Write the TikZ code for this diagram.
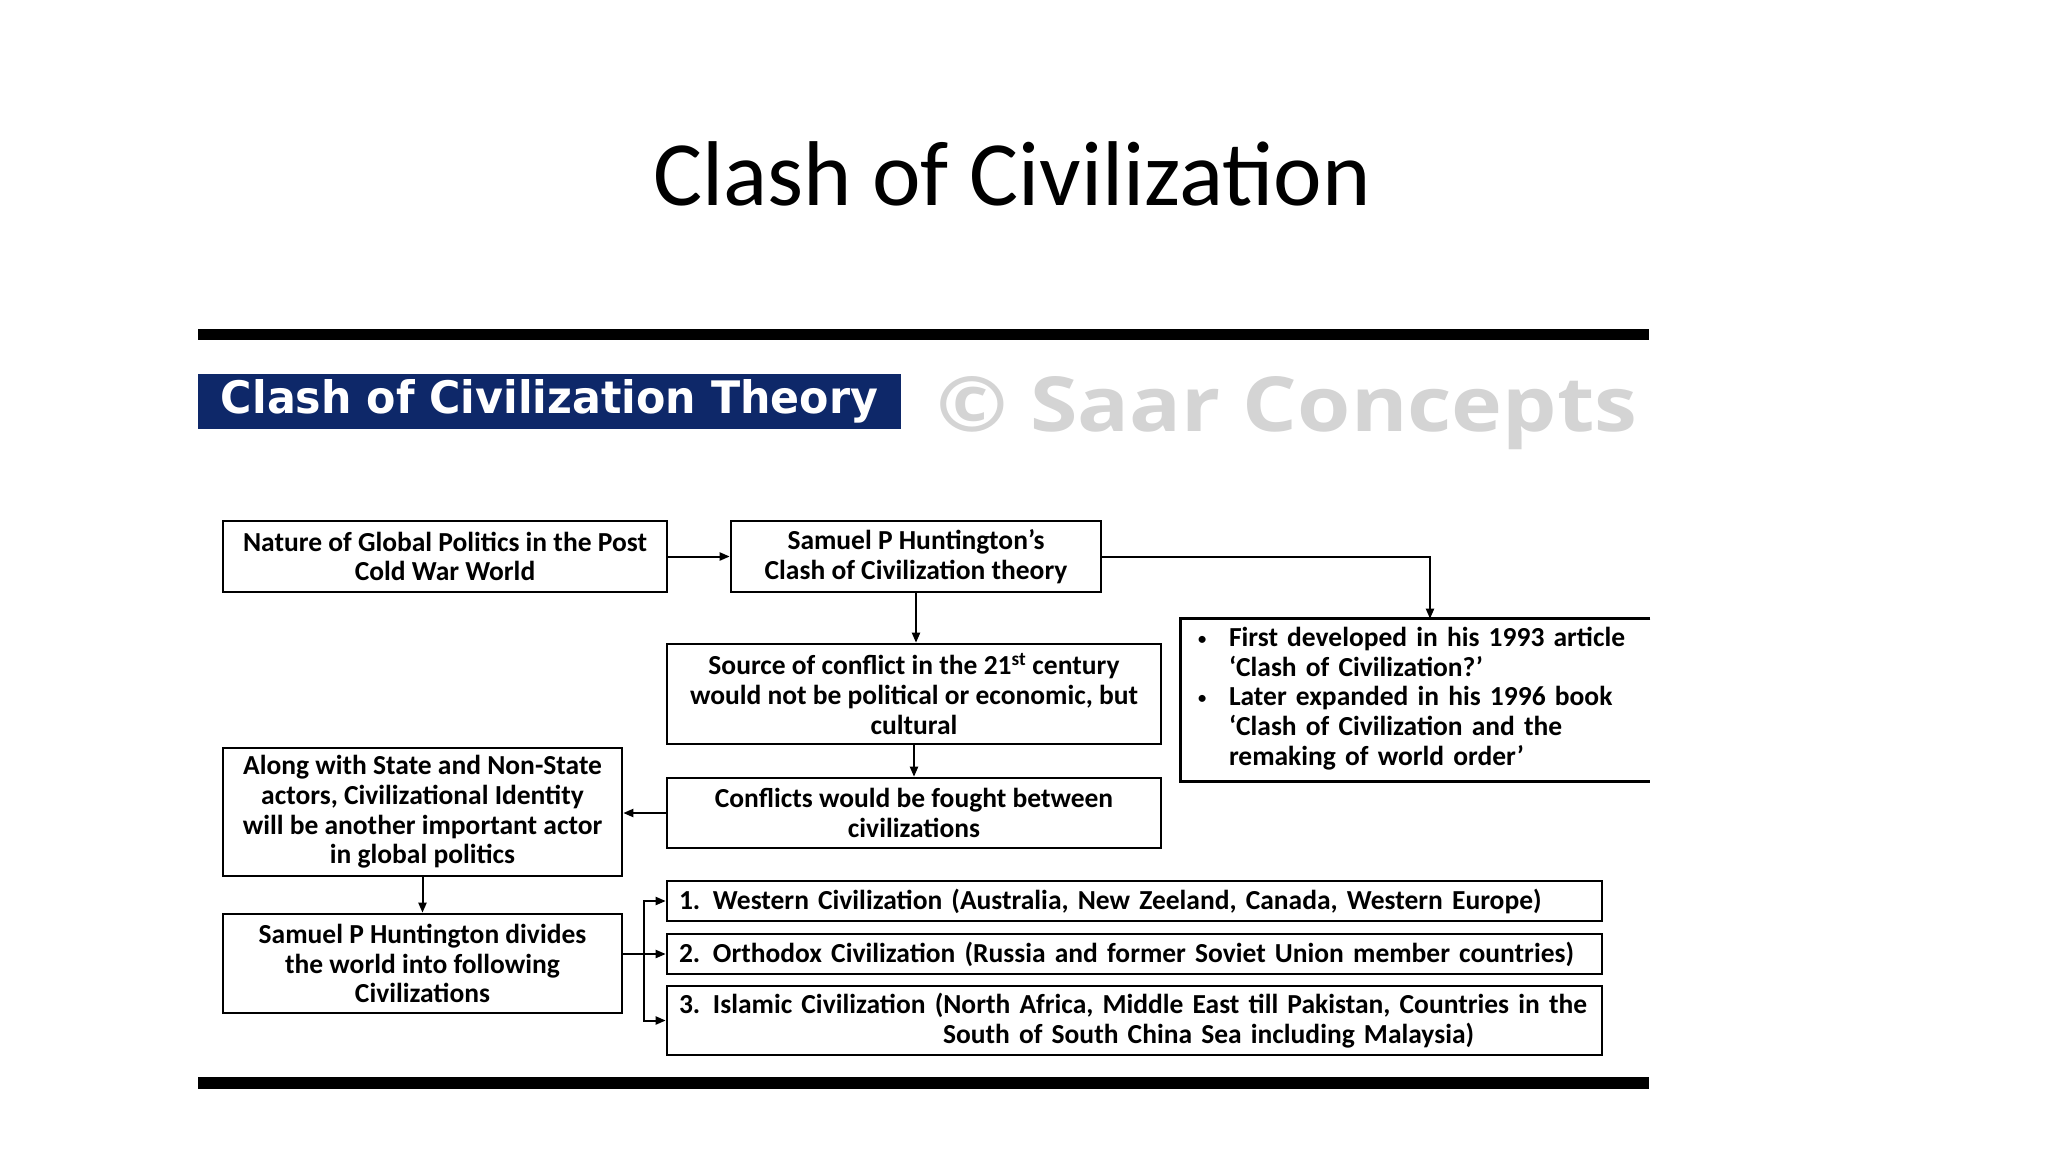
\documentclass[tikz,border=0pt]{standalone}
\usepackage{fontspec}
\usepackage{graphicx}
\setmainfont{Carlito}
\newfontfamily\wmfont{Open Sans}
\newfontfamily\headfont{DejaVu Sans}
\usetikzlibrary{arrows.meta}
\definecolor{navy}{RGB}{14,40,105}
\definecolor{wmgray}{RGB}{212,212,212}
\newcommand{\dotmark}{\raisebox{2pt}{\scalebox{0.6}{\textbullet}}}
\tikzset{
  box/.style={draw, line width=2.6pt, fill=white, align=center, inner sep=0pt,
    font=\fontsize{27.5}{29.6}\selectfont\bfseries},
  arr/.style={line width=2pt, -{Triangle[length=10pt,width=8pt]}},
}
\begin{document}
\begin{tikzpicture}[x=1pt,y=-1pt]
    \useasboundingbox (0,0) rectangle (2048,1152);
    \node [anchor=base, font=\fontsize{92}{100}\selectfont] (title) at (1012,205) {Clash of Civilization};
    \fill (198,329) rectangle (1649,340);
    \fill (198,1077) rectangle (1649,1089);
    \node [fill=navy, text=white, minimum width=703pt, minimum height=55pt, inner sep=0pt] (head) at (549.5,401)
          {\resizebox{657pt}{34pt}{\headfont\bfseries Clash of Civilization Theory}};
    \node [anchor=base west, text=wmgray, inner sep=0pt] (mark) at (936,431)
          {\resizebox{701pt}{55pt}{\wmfont\bfseries © Saar Concepts}};

    \node [box, minimum width=444pt, minimum height=71pt] (nature) at (445,556.5)
          {Nature of Global Politics in the Post\\Cold War World};
    \node [box, minimum width=370pt, minimum height=71pt] (theory) at (916,556.5)
          {Samuel P Huntington’s\\Clash of Civilization theory};
    \node [box, draw=none, minimum width=467pt, minimum height=160pt, text width=435pt, align=left] (books) at (1415.5,700)
          {\begin{tabular}{@{}p{31pt}@{}l@{}}
             \dotmark & First developed in his 1993 article\\
                      & ‘Clash of Civilization?’\\
             \dotmark & Later expanded in his 1996 book\\
                      & ‘Clash of Civilization and the\\
                      & remaking of world order’
           \end{tabular}};
    \draw [line width=2.6pt] (books.north east) -- (books.north west) -- (books.south west) -- (books.south east);
    \node [box, minimum width=494pt, minimum height=100pt] (source) at (914,694)
          {Source of conflict in the 21\textsuperscript{st} century\\would not be political or economic, but\\cultural};
    \node [box, minimum width=494pt, minimum height=70pt] (fought) at (914,813)
          {Conflicts would be fought between\\civilizations};
    \node [box, minimum width=399pt, minimum height=128pt] (identity) at (422.5,812)
          {Along with State and Non-State\\actors, Civilizational Identity\\will be another important actor\\in global politics};
    \node [box, minimum width=399pt, minimum height=99pt] (divides) at (422.5,963.5)
          {Samuel P Huntington divides\\the world into following\\Civilizations};
    \node [box, minimum width=935pt, minimum height=40pt, text width=911pt, align=left] (western) at (1134.5,901)
          {\makebox[34pt][l]{1.}Western Civilization (Australia, New Zeeland, Canada, Western Europe)};
    \node [box, minimum width=935pt, minimum height=40pt, text width=911pt, align=left] (orthodox) at (1134.5,954)
          {\makebox[34pt][l]{2.}Orthodox Civilization (Russia and former Soviet Union member countries)};
    \node [box, minimum width=935pt, minimum height=69pt, text width=911pt, align=left] (islamic) at (1134.5,1020.5)
          {\makebox[34pt][l]{3.}Islamic Civilization (North Africa, Middle East till Pakistan, Countries in the\\
           \hspace*{264pt}South of South China Sea including Malaysia)};

    \draw [arr] (nature) -- (theory);
    \draw [arr] (theory.east) -| ([xshift=14.5pt]books.north);
    \draw [arr] (theory.south) -- (theory.south |- source.north);
    \draw [arr] (source.south) -- (source.south |- fought.north);
    \draw [arr] (fought.west) -- (fought.west -| identity.east);
    \draw [arr] (identity) -- (divides);
    \coordinate (fork) at (644,954);
    \draw [line width=2pt] (divides.east |- fork) -- (fork);
    \draw [arr] (fork) |- (western.west);
    \draw [arr] (fork) -- (orthodox.west);
    \draw [arr] (fork) |- (islamic.west);
\end{tikzpicture}
\end{document}
